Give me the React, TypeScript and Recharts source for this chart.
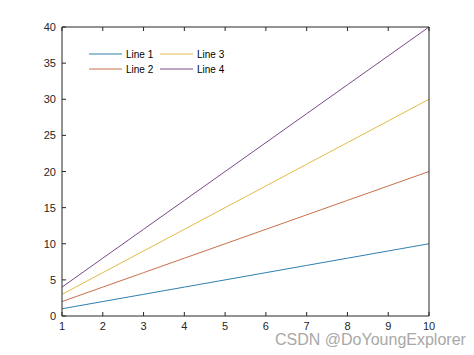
import React from "react";
import { LineChart, Line, XAxis, YAxis } from "recharts";

const xValues = [1, 2, 3, 4, 5, 6, 7, 8, 9, 10];
const line1 = [1, 2, 3, 4, 5, 6, 7, 8, 9, 10];
const line2 = [2, 4, 6, 8, 10, 12, 14, 16, 18, 20];
const line3 = [3, 6, 9, 12, 15, 18, 21, 24, 27, 30];
const line4 = [4, 8, 12, 16, 20, 24, 28, 32, 36, 40];
const xTicks = [1, 2, 3, 4, 5, 6, 7, 8, 9, 10];
const yTicks = [0, 5, 10, 15, 20, 25, 30, 35, 40];
const seriesNames = ["Line 1", "Line 2", "Line 3", "Line 4"];
const seriesColors = ["#2f7fb0", "#c8704a", "#e3bb45", "#7a4a88"];

const data = xValues.map((x, i) => ({ x, l1: line1[i], l2: line2[i], l3: line3[i], l4: line4[i] }));

const FONT = "'Liberation Sans', Arial, sans-serif";
const AX = "#262626";

const BottomTick = (p: any) => (
  <g>
    <line x1={p.x} y1={p.y} x2={p.x} y2={p.y - 4} stroke={AX} strokeWidth={1} />
    <text x={p.x} y={p.y + 14} textAnchor="middle" fontSize={11} fontFamily={FONT} fill={AX}>
      {p.payload.value}
    </text>
  </g>
);
const TopTick = (p: any) => (
  <line x1={p.x} y1={p.y} x2={p.x} y2={p.y + 4} stroke={AX} strokeWidth={1} />
);
const LeftTick = (p: any) => (
  <g>
    <line x1={p.x} y1={p.y} x2={p.x + 4} y2={p.y} stroke={AX} strokeWidth={1} />
    <text x={p.x - 6} y={p.y + 4} textAnchor="end" fontSize={11} fontFamily={FONT} fill={AX}>
      {p.payload.value}
    </text>
  </g>
);
const RightTick = (p: any) => (
  <line x1={p.x} y1={p.y} x2={p.x - 4} y2={p.y} stroke={AX} strokeWidth={1} />
);

const LegendBox = () => {
  const order = [0, 2, 1, 3];
  return (
    <div
      style={{
        position: "absolute",
        left: 89,
        top: 47,
        display: "grid",
        gridTemplateColumns: "71px 70px",
        rowGap: 1,
        fontFamily: FONT,
        fontSize: 10,
        color: "#000",
      }}
    >
      {order.map((i) => (
        <div key={i} style={{ display: "flex", alignItems: "center", height: 14 }}>
          <svg width={33} height={14} style={{ marginRight: 4 }}>
            <line x1={0} y1={7} x2={33} y2={7} stroke={seriesColors[i]} strokeWidth={1} />
          </svg>
          <span>{seriesNames[i]}</span>
        </div>
      ))}
    </div>
  );
};

export default function App() {
  return (
    <div style={{ position: "absolute", left: 0, top: 0, width: 474, height: 355, background: "#fff" }}>
      <LineChart
        width={474}
        height={355}
        data={data}
        margin={{ top: 26, right: 44, bottom: 9, left: 2 }}
      >
        <XAxis
          dataKey="x"
          type="number"
          domain={[1, 10]}
          ticks={xTicks}
          xAxisId="b"
          orientation="bottom"
          height={30}
          tickSize={0}
          tickMargin={0}
          tickLine={false}
          axisLine={{ stroke: AX }}
          tick={<BottomTick />}
          interval={0}
        />
        <XAxis
          dataKey="x"
          type="number"
          domain={[1, 10]}
          ticks={xTicks}
          xAxisId="t"
          orientation="top"
          height={1}
          tickSize={0}
          tickMargin={0}
          tickLine={false}
          axisLine={{ stroke: AX }}
          tick={<TopTick />}
          interval={0}
        />
        <YAxis
          yAxisId="l"
          type="number"
          domain={[0, 40]}
          ticks={yTicks}
          width={60}
          tickSize={0}
          tickMargin={0}
          tickLine={false}
          axisLine={{ stroke: AX }}
          tick={<LeftTick />}
          interval={0}
        />
        <YAxis
          yAxisId="r"
          orientation="right"
          type="number"
          domain={[0, 40]}
          ticks={yTicks}
          width={1}
          tickSize={0}
          tickMargin={0}
          tickLine={false}
          axisLine={{ stroke: AX }}
          tick={<RightTick />}
          interval={0}
        />
        {(["l1", "l2", "l3", "l4"] as const).map((k, i) => (
          <Line
            key={k}
            xAxisId="b"
            yAxisId="l"
            dataKey={k}
            name={seriesNames[i]}
            stroke={seriesColors[i]}
            strokeWidth={1}
            dot={false}
            activeDot={false}
            isAnimationActive={false}
            type="linear"
          />
        ))}
      </LineChart>
      <LegendBox />
      <div
        style={{
          position: "absolute",
          left: 275,
          top: 331,
          fontFamily: FONT,
          fontSize: 16,
          color: "#a8a8a8",
          whiteSpace: "nowrap",
        }}
      >
        CSDN @DoYoungExplorer
      </div>
    </div>
  );
}
